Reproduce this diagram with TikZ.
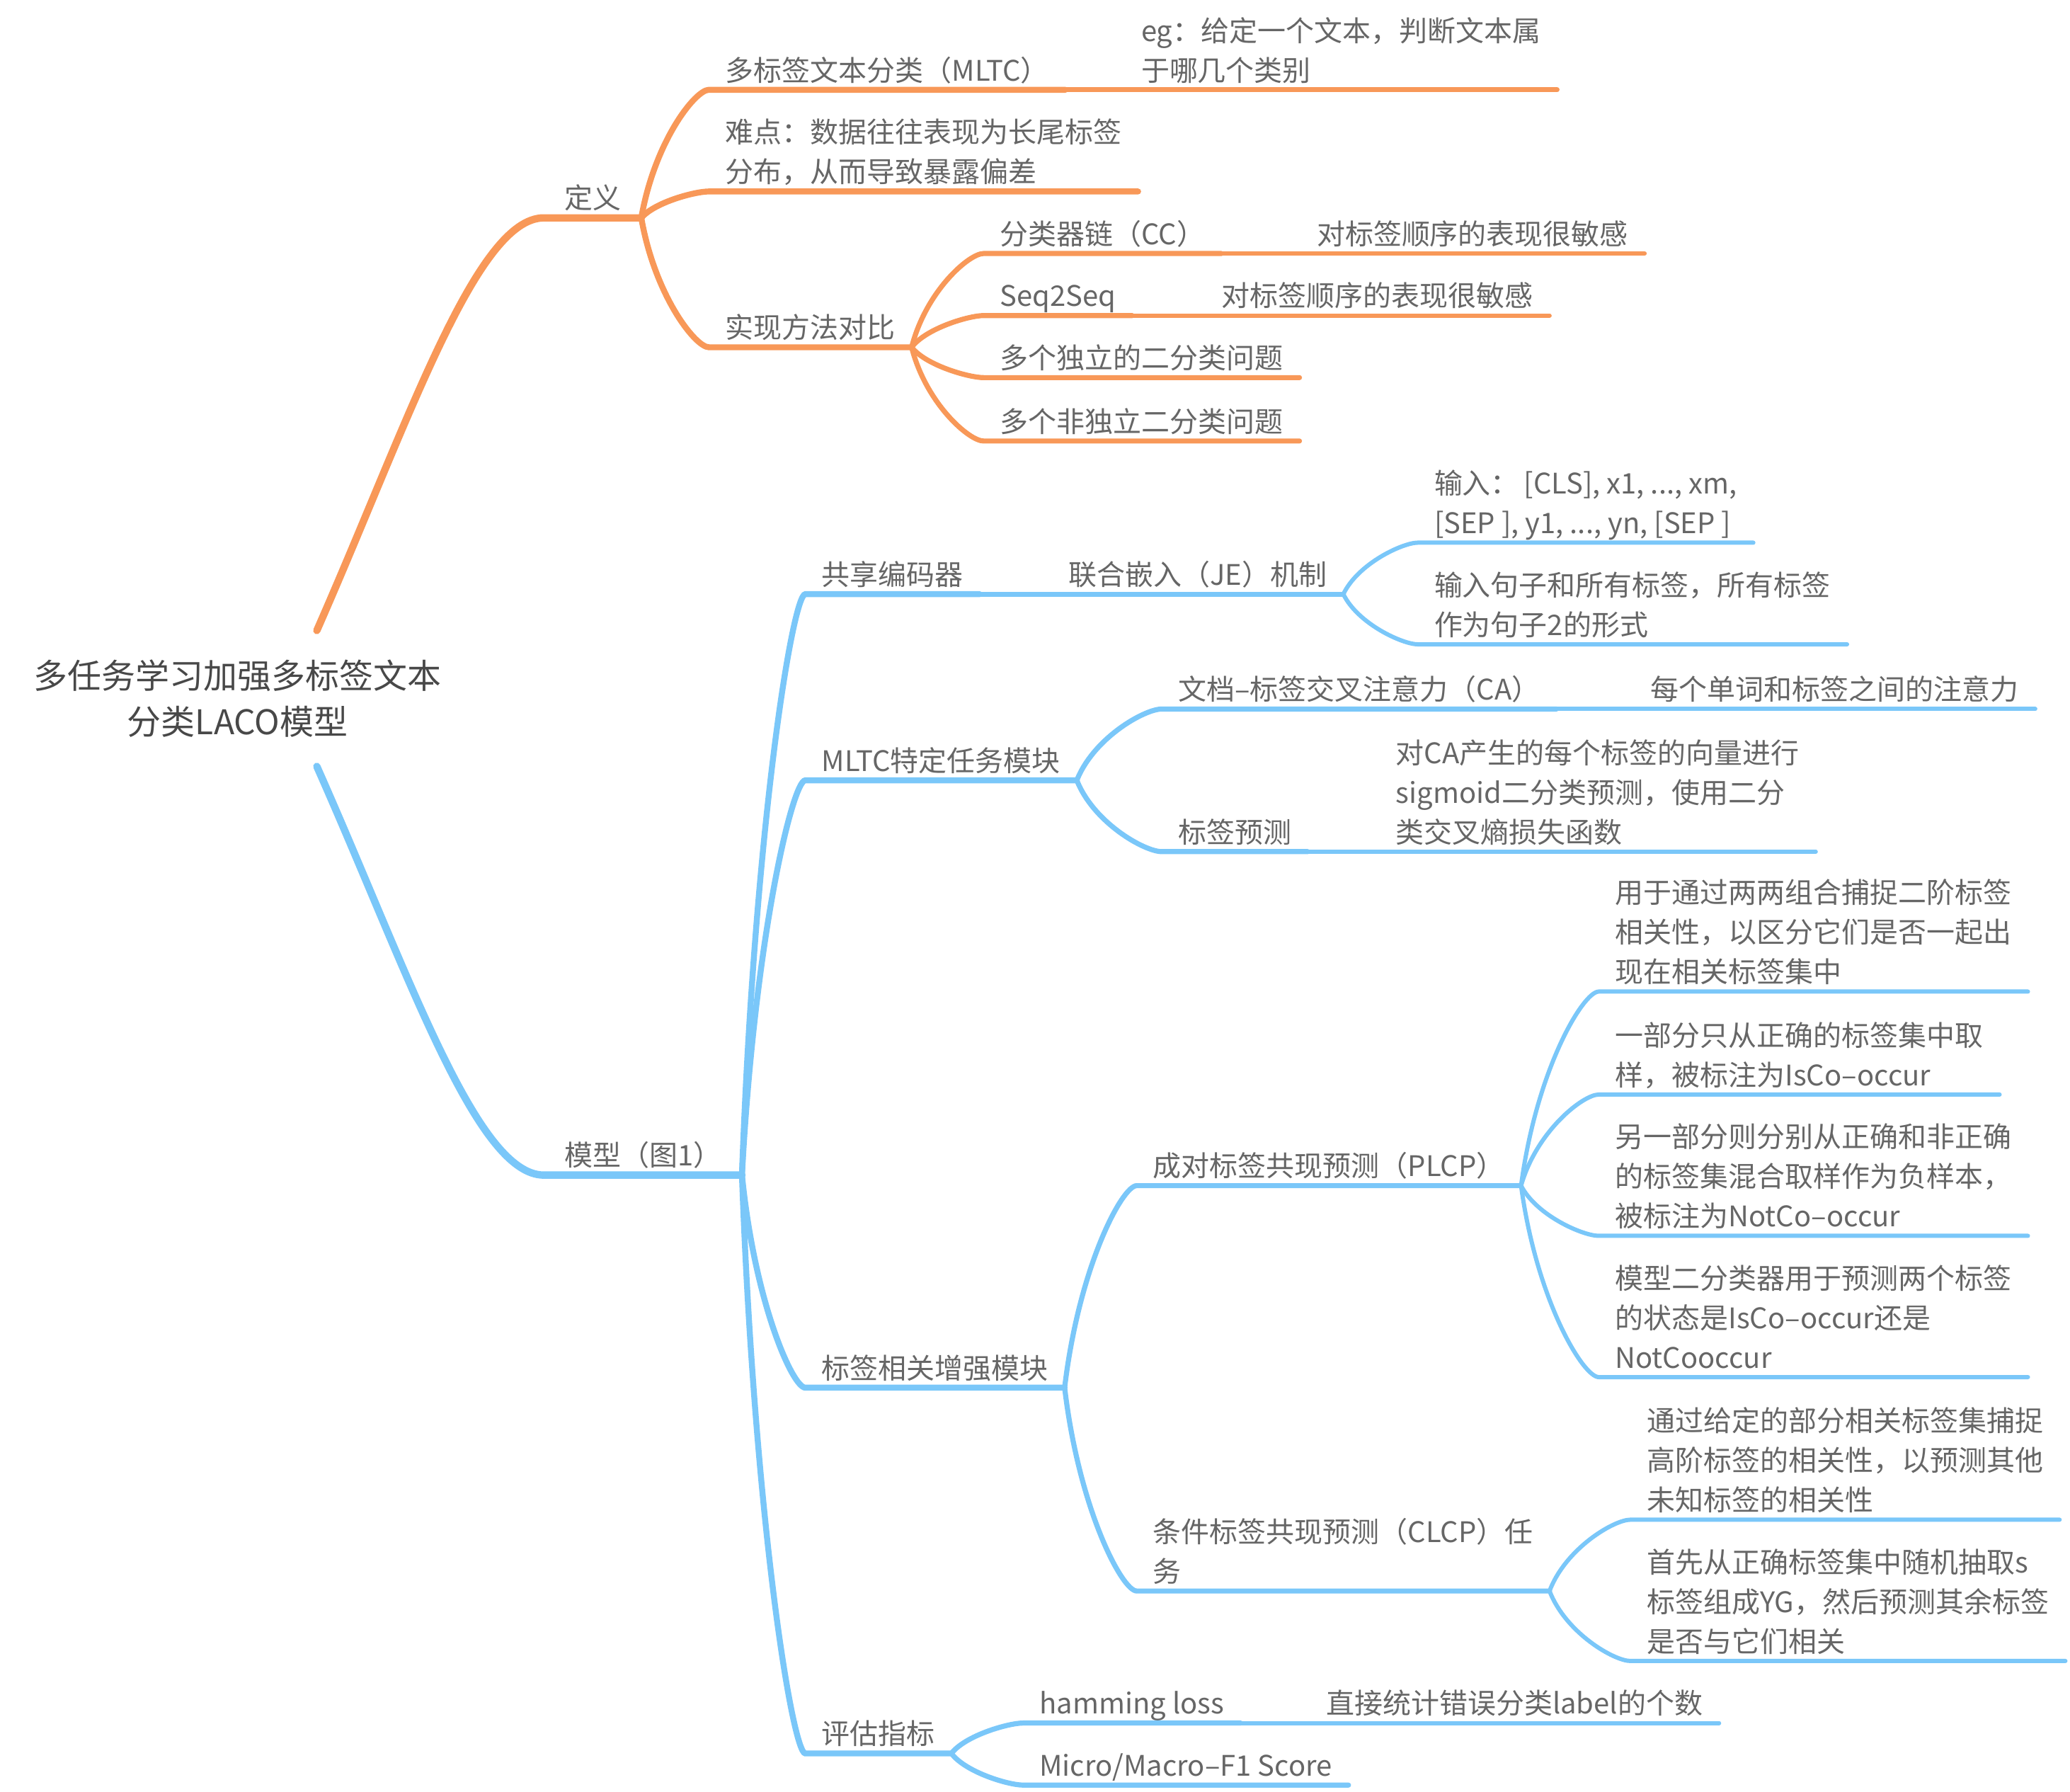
\documentclass[tikz,border=0pt]{standalone}
\usepackage{fontspec}
\setmainfont{Noto Sans CJK SC}
\usetikzlibrary{calc}
\definecolor{branchorange}{RGB}{248,152,88}
\definecolor{branchblue}{RGB}{122,199,249}
\definecolor{labelgray}{RGB}{102,102,102}
\definecolor{rootgray}{RGB}{72,72,72}

\begin{document}
\begin{tikzpicture}[x=0.4663pt,y=-0.4663pt]
\tikzset{topic/.style = {anchor=south west, align=left, inner xsep=5.6pt, inner ysep=1.8pt, text depth=1.2pt, text=labelgray, font=\fontsize{10}{14}\selectfont}}
\tikzset{maintopic/.style = {topic, inner xsep=7pt}}
\tikzset{branch/.style = {line cap=round, to path={let \p1=(\tikztostart), \p2=(\tikztotarget) in .. controls ({\x1+0.2*(\x2-\x1)},{\y1+0.6*(\y2-\y1)}) and ({\x2-0.2*(\x2-\x1)},{\y2}) .. (\tikztotarget)}}}
\tikzset{rootbranch/.style = {line cap=round, line width=2.6pt, to path={let \p1=(\tikztostart), \p2=(\tikztotarget) in .. controls ({\x1+0.4*(\x2-\x1)},{\y1+0.5*(\y2-\y1)}) and ({\x2-0.3*(\x2-\x1)},{\y2}) .. (\tikztotarget)}}}
\tikzset{limb/.style = {branch, line width=2.1pt}}
\tikzset{twig/.style = {branch, line width=1.8pt}}
\tikzset{leaf/.style = {branch, line width=1.5pt}}
\useasboundingbox (0,0) rectangle (1568,1357);

\node[align=center, text=rootgray, font=\fontsize{12}{16.3}\selectfont, minimum height=47.6pt] (root) at (180,529) {多任务学习加强多标签文本\\分类LACO模型};
\coordinate (rootTop) at ($(root.north)+(60,0)$);
\coordinate (rootBottom) at ($(root.south)+(60,0)$);

\node[maintopic] (dingyi) at (412,165) {定义};
\node[topic] (mltc) at (537,68) {多标签文本分类（MLTC）};
\node[topic] (eg) at (852,68) {eg：给定一个文本，判断文本属\\于哪几个类别};
\node[topic] (nandian) at (537,145) {难点：数据往往表现为长尾标签\\分布，从而导致暴露偏差};
\node[topic] (shixian) at (537,263) {实现方法对比};
\node[topic] (cc) at (745,192) {分类器链（CC）};
\node[topic] (ccnote) at (985,192) {对标签顺序的表现很敏感};
\node[topic] (seq) at (745,239) {Seq2Seq};
\node[topic] (seqnote) at (913,239) {对标签顺序的表现很敏感};
\node[topic] (duli) at (745,286) {多个独立的二分类问题};
\node[topic] (feiduli) at (745,334) {多个非独立二分类问题};

\node[maintopic] (moxing) at (412,890) {模型（图1）};
\node[topic] (gongxiang) at (610,450) {共享编码器};
\node[topic] (je) at (797,450) {联合嵌入（JE）机制};
\node[topic] (input1) at (1074,411) {输入：\,[CLS], x1, ..., xm,\\{}[SEP ], y1, ..., yn, [SEP ]};
\node[topic] (input2) at (1074,488) {输入句子和所有标签，所有标签\\作为句子2的形式};
\node[topic] (mltcmod) at (610,591) {MLTC特定任务模块};
\node[topic] (ca) at (880,537) {文档–标签交叉注意力（CA）};
\node[topic] (canote) at (1238,537) {每个单词和标签之间的注意力};
\node[topic] (yuce) at (880,645) {标签预测};
\node[topic] (yucenote) at (1045,645) {对CA产生的每个标签的向量进行\\sigmoid二分类预测，使用二分\\类交叉熵损失函数};
\node[topic] (zengqiang) at (610,1051) {标签相关增强模块};
\node[topic] (plcp) at (861,898) {成对标签共现预测（PLCP）};
\node[topic] (plcpa) at (1211,751) {用于通过两两组合捕捉二阶标签\\相关性，以区分它们是否一起出\\现在相关标签集中};
\node[topic] (plcpb) at (1211,829) {一部分只从正确的标签集中取\\样，被标注为IsCo–occur};
\node[topic] (plcpc) at (1211,936) {另一部分则分别从正确和非正确\\的标签集混合取样作为负样本，\\被标注为NotCo–occur};
\node[topic] (plcpd) at (1211,1043) {模型二分类器用于预测两个标签\\的状态是IsCo–occur还是\\NotCooccur};
\node[topic] (clcp) at (861,1205) {条件标签共现预测（CLCP）任\\务};
\node[topic] (clcpa) at (1235,1151) {通过给定的部分相关标签集捕捉\\高阶标签的相关性，以预测其他\\未知标签的相关性};
\node[topic] (clcpb) at (1235,1258) {首先从正确标签集中随机抽取s\\标签组成YG，然后预测其余标签\\是否与它们相关};
\node[topic] (pinggu) at (610,1328) {评估指标};
\node[topic] (hamming) at (775,1305) {hamming loss};
\node[topic] (hammingnote) at (992,1305) {直接统计错误分类label的个数};
\node[topic] (fscore) at (775,1352) {Micro/Macro–F1 Score};

\draw[rootbranch, branchorange] (rootTop) to (dingyi.south west) -- (dingyi.south east);
\draw[limb, branchorange] (dingyi.south east) to (mltc.south west) -- (mltc.south east);
\draw[twig, branchorange] (mltc.south east) to (eg.south west) -- (eg.south east);
\draw[limb, branchorange] (dingyi.south east) to (nandian.south west) -- (nandian.south east);
\draw[limb, branchorange] (dingyi.south east) to (shixian.south west) -- (shixian.south east);
\draw[twig, branchorange] (shixian.south east) to (cc.south west) -- (cc.south east);
\draw[leaf, branchorange] (cc.south east) to (ccnote.south west) -- (ccnote.south east);
\draw[twig, branchorange] (shixian.south east) to (seq.south west) -- (seq.south east);
\draw[leaf, branchorange] (seq.south east) to (seqnote.south west) -- (seqnote.south east);
\draw[twig, branchorange] (shixian.south east) to (duli.south west) -- (duli.south east);
\draw[twig, branchorange] (shixian.south east) to (feiduli.south west) -- (feiduli.south east);

\draw[rootbranch, branchblue] (rootBottom) to (moxing.south west) -- (moxing.south east);
\draw[limb, branchblue] (moxing.south east) to (gongxiang.south west) -- (gongxiang.south east);
\draw[twig, branchblue] (gongxiang.south east) to (je.south west) -- (je.south east);
\draw[leaf, branchblue] (je.south east) to (input1.south west) -- (input1.south east);
\draw[leaf, branchblue] (je.south east) to (input2.south west) -- (input2.south east);
\draw[limb, branchblue] (moxing.south east) to (mltcmod.south west) -- (mltcmod.south east);
\draw[twig, branchblue] (mltcmod.south east) to (ca.south west) -- (ca.south east);
\draw[leaf, branchblue] (ca.south east) to (canote.south west) -- (canote.south east);
\draw[twig, branchblue] (mltcmod.south east) to (yuce.south west) -- (yuce.south east);
\draw[leaf, branchblue] (yuce.south east) to (yucenote.south west) -- (yucenote.south east);
\draw[limb, branchblue] (moxing.south east) to (zengqiang.south west) -- (zengqiang.south east);
\draw[twig, branchblue] (zengqiang.south east) to (plcp.south west) -- (plcp.south east);
\draw[leaf, branchblue] (plcp.south east) to (plcpa.south west) -- (plcpa.south east);
\draw[leaf, branchblue] (plcp.south east) to (plcpb.south west) -- (plcpb.south east);
\draw[leaf, branchblue] (plcp.south east) to (plcpc.south west) -- (plcpc.south east);
\draw[leaf, branchblue] (plcp.south east) to (plcpd.south west) -- (plcpd.south east);
\draw[twig, branchblue] (zengqiang.south east) to (clcp.south west) -- (clcp.south east);
\draw[leaf, branchblue] (clcp.south east) to (clcpa.south west) -- (clcpa.south east);
\draw[leaf, branchblue] (clcp.south east) to (clcpb.south west) -- (clcpb.south east);
\draw[limb, branchblue] (moxing.south east) to (pinggu.south west) -- (pinggu.south east);
\draw[twig, branchblue] (pinggu.south east) to (hamming.south west) -- (hamming.south east);
\draw[leaf, branchblue] (hamming.south east) to (hammingnote.south west) -- (hammingnote.south east);
\draw[twig, branchblue] (pinggu.south east) to (fscore.south west) -- (fscore.south east);
\end{tikzpicture}
\end{document}
